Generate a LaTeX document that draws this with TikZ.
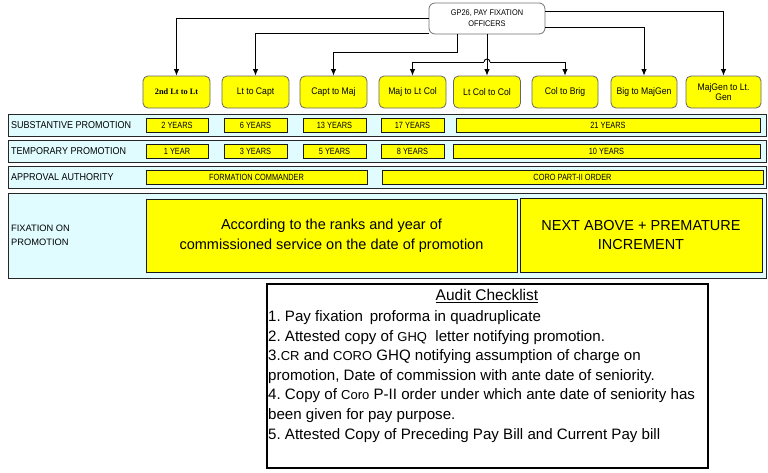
\documentclass[tikz,border=0pt]{standalone}
\usepackage{fontspec}
\setmainfont{Liberation Sans}
\newfontfamily\narrowA[FakeStretch=0.9]{Liberation Sans}
\newfontfamily\narrowB[FakeStretch=0.82]{Liberation Sans}
\newfontfamily\serifbd{Liberation Serif}
\usetikzlibrary{arrows.meta}
\definecolor{rowfill}{HTML}{E0FCFF}
\definecolor{ylw}{HTML}{FFFF00}
\frenchspacing
\tikzset{
  arr/.style={-{Latex[length=6.5pt,width=5.5pt]}, line width=0.9pt, draw=black},
  rank/.style={draw=black!60, fill=ylw, rounded corners=5pt, minimum height=32pt, inner sep=1pt, align=center, font=\narrowA\fontsize{9.6}{10.5}\selectfont, line width=0.8pt},
  gpbox/.style={draw=black!55, fill=white, rounded corners=6pt, minimum width=116pt, minimum height=31pt, inner sep=1pt, align=center, font=\narrowA\fontsize{8.2}{11}\selectfont, line width=0.8pt},
  rowbox/.style={draw=black!85, fill=rowfill, line width=1pt, inner sep=0pt},
  cell/.style={draw=black!90, fill=ylw, line width=0.8pt, inner sep=0pt, font=\narrowB\fontsize{9}{10}\selectfont},
  rowlabel/.style={anchor=west, inner sep=0pt, font=\narrowA\fontsize{10}{12}\selectfont},
  bigcell/.style={draw=black!90, fill=ylw, line width=0.8pt, inner sep=0pt, align=center, font=\fontsize{14.5}{19.5}\selectfont},
  chk/.style={anchor=base west, inner sep=0pt, font=\fontsize{15.1}{18}\selectfont},
}
\newcommand{\sm}[1]{{\fontsize{13}{15}\selectfont #1}}
\begin{document}
\begin{tikzpicture}[x=1pt,y=-1pt]
\useasboundingbox (0,0) rectangle (768,472);

% top node
\node[gpbox] (gp) at (487,18.5) {GP26, PAY FIXATION\\OFFICERS};

% rank boxes
\node[rank, minimum width=67pt, font=\serifbd\bfseries\fontsize{8.3}{10}\selectfont] (r1) at (176.5,92) {2nd Lt to Lt};
\node[rank, minimum width=67pt] (r2) at (255.5,92) {Lt to Capt};
\node[rank, minimum width=67pt] (r3) at (333.5,92) {Capt to Maj};
\node[rank, minimum width=67pt] (r4) at (412.5,92) {Maj to Lt Col};
\node[rank, minimum width=67pt] (r5) at (487,92) {Lt Col to Col};
\node[rank, minimum width=66pt] (r6) at (565,92) {Col to Brig};
\node[rank, minimum width=66pt] (r7) at (644,92) {Big to MajGen};
\node[rank, minimum width=75pt] (r8) at (723.5,92) {MajGen to Lt.\\Gen};

% connectors
\draw[arr] (gp.west |- 0,18) -| (r1.north);
\draw[arr] (gp.west |- 0,33) -| (r2.north);
\draw[arr] (gp.south -| 457,0) |- (333.5,52) -- (r3.north);
\draw[arr] (gp.south) -- (r5.north);
\coordinate (jl) at (484,62);
\coordinate (jr) at (490,62);
\draw[line width=0.9pt] (jl) arc[start angle=180, end angle=360, radius=3];
\draw[arr] (jl) -| (r4.north);
\draw[arr] (jr) -| (r6.north);
\draw[arr] (gp.east |- 0,27) -| (r7.north);
\draw[arr] (gp.east |- 0,11) -| (r8.north);

% rows
\node[rowbox, minimum width=758pt, minimum height=22pt] (row1) at (387,125) {};
\node[rowbox, minimum width=758pt, minimum height=22pt] (row2) at (387,151) {};
\node[rowbox, minimum width=758pt, minimum height=22pt] (row3) at (387,177) {};
\node[rowbox, minimum width=758pt, minimum height=85pt] (row4) at (387,235.5) {};

\node[rowlabel] (l1) at (11,125) {SUBSTANTIVE PROMOTION};
\node[rowlabel] (l2) at (11,151) {TEMPORARY PROMOTION};
\node[rowlabel] (l3) at (11,177) {APPROVAL AUTHORITY};
\node[anchor=west, inner sep=0pt, align=left, font=\fontsize{9.3}{14}\selectfont] (l4) at (11,235) {FIXATION ON\\PROMOTION};

% row 1 cells
\node[cell, minimum width=62pt, minimum height=14pt] (s1) at (177,125) {2 YEARS};
\node[cell, minimum width=63pt, minimum height=14pt] (s2) at (255.5,125) {6 YEARS};
\node[cell, minimum width=63pt, minimum height=14pt] (s3) at (334.5,125) {13 YEARS};
\node[cell, minimum width=63pt, minimum height=14pt] (s4) at (412.5,125) {17 YEARS};
\node[cell, minimum width=304pt, minimum height=14pt] (s5) at (608,125) {21 YEARS};
% row 2 cells
\node[cell, minimum width=62pt, minimum height=14pt] (t1) at (177,151) {1 YEAR};
\node[cell, minimum width=63pt, minimum height=14pt] (t2) at (255.5,151) {3 YEARS};
\node[cell, minimum width=63pt, minimum height=14pt] (t3) at (334.5,151) {5 YEARS};
\node[cell, minimum width=63pt, minimum height=14pt] (t4) at (412.5,151) {8 YEARS};
\node[cell, minimum width=307pt, minimum height=14pt] (t5) at (606.5,151) {10 YEARS};
% row 3 cells
\node[cell, minimum width=221pt, minimum height=14pt] (a1) at (256.5,177) {FORMATION COMMANDER};
\node[cell, minimum width=381pt, minimum height=14pt] (a2) at (572.5,177) {CORO PART-II ORDER};
% row 4 cells
\node[bigcell, minimum width=371pt, minimum height=73pt] (f1) at (331.5,235.5) {According to the ranks and year of\\commissioned service on the date of promotion};
\node[bigcell, minimum width=242pt, minimum height=74pt] (f2) at (641,235) {NEXT ABOVE + PREMATURE\\INCREMENT};

% audit checklist
\node[draw=black, line width=1.1pt, fill=white, minimum width=441pt, minimum height=184pt, inner sep=0pt] (audit) at (487.5,376) {};
\node[anchor=base, inner sep=0pt, font=\fontsize{15.5}{18}\selectfont] (title) at (487,300.5) {\underline{Audit Checklist}};
\node[chk] (c1) at (268,321.5) {1. Pay fixation\, proforma in quadruplicate};
\node[chk] (c2) at (268,341.1) {2. Attested copy of \sm{GHQ}\ \ letter notifying promotion.};
\node[chk] (c3) at (268,360.7) {3.\sm{CR} and \sm{CORO} GHQ notifying assumption of charge on};
\node[chk] (c4) at (268,380.3) {promotion, Date of commission with ante date of seniority.};
\node[chk] (c5) at (268,399.9) {4. Copy of \sm{Coro} P-II order under which ante date of seniority has};
\node[chk] (c6) at (268,419.5) {been given for pay purpose.};
\node[chk] (c7) at (268,439.1) {5. Attested Copy of Preceding Pay Bill and Current Pay bill};
\end{tikzpicture}
\end{document}
